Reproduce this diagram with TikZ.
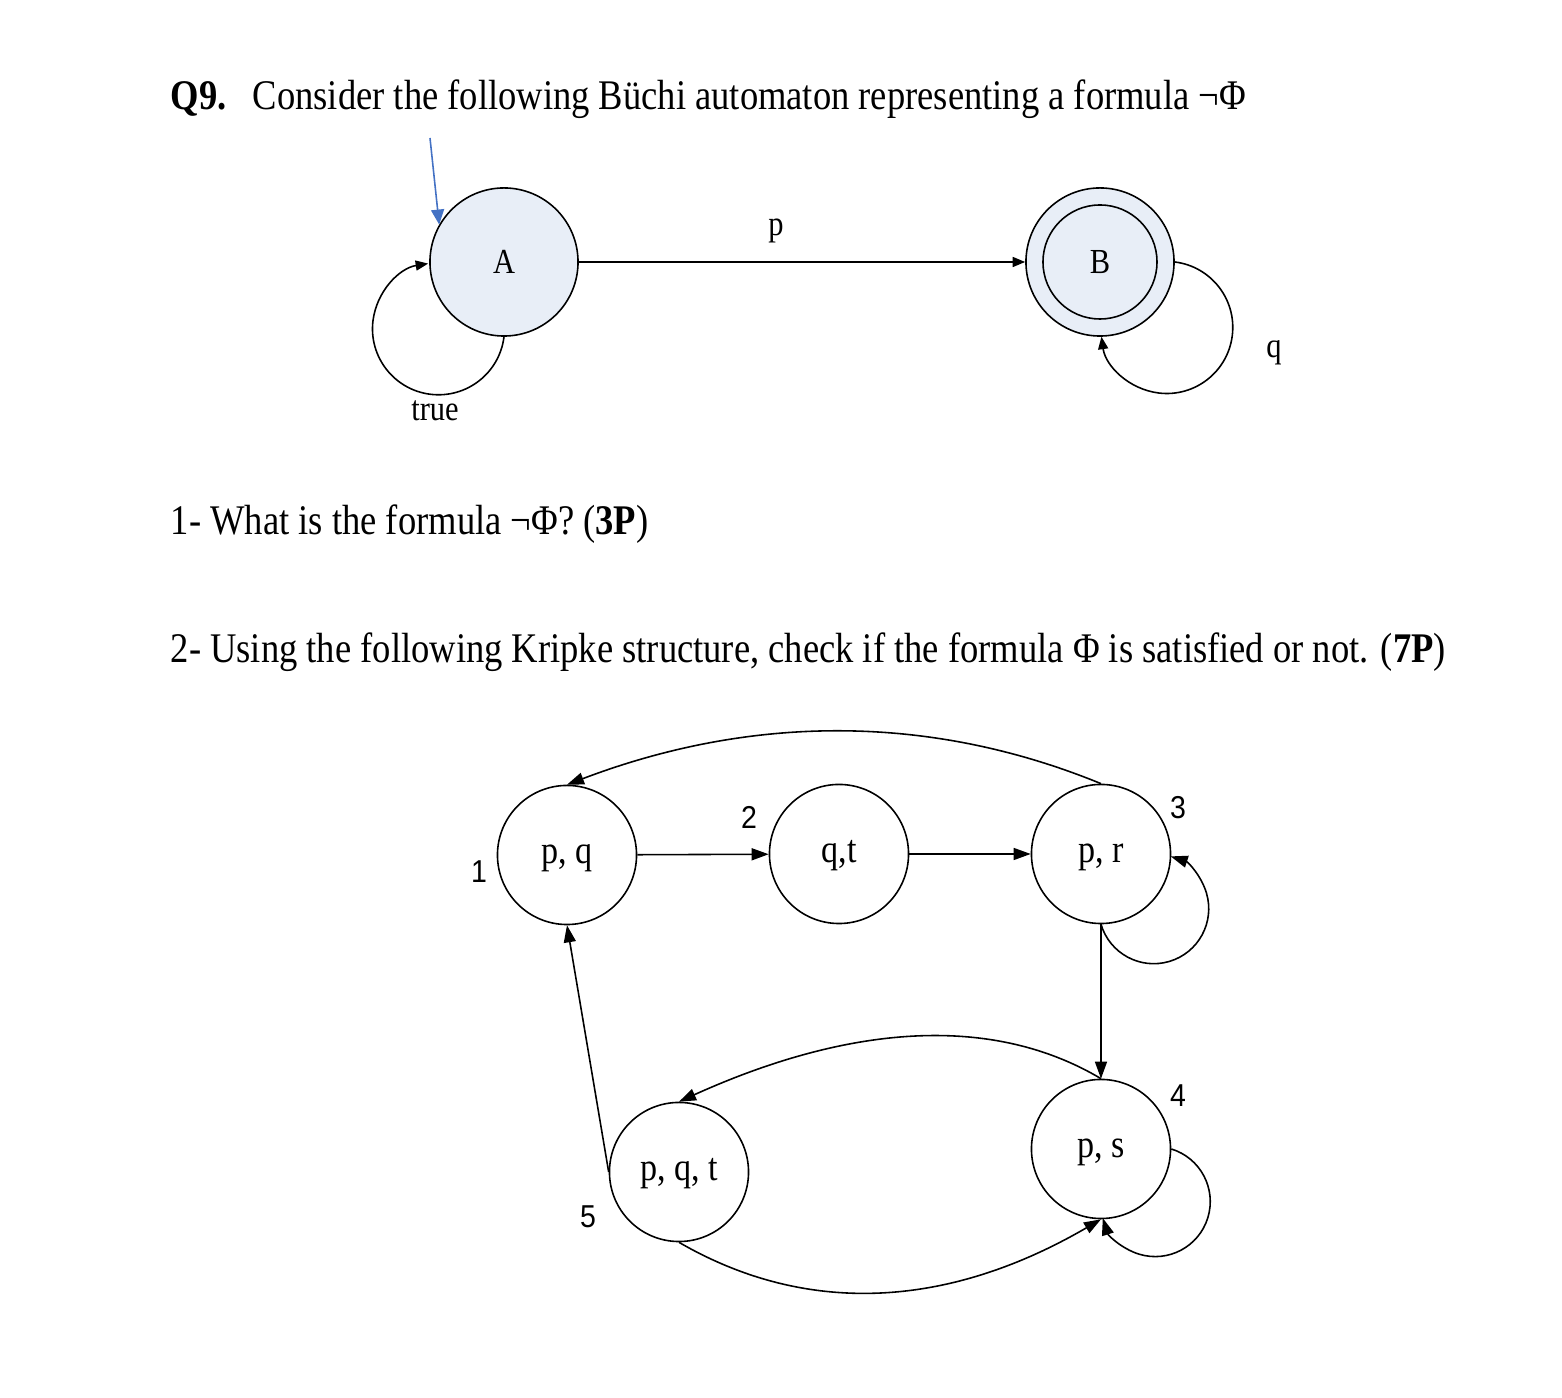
\documentclass[tikz,border=0pt]{standalone}
\usepackage{fontspec}
\setmainfont{Liberation Serif}[FakeStretch=0.866]
\newfontfamily\numfont{Liberation Sans}[FakeStretch=0.9]
\usetikzlibrary{arrows.meta}
\definecolor{statefill}{RGB}{232,238,247}
\definecolor{initblue}{RGB}{68,114,196}
\begin{document}
\begin{tikzpicture}[x=0.01cm,y=-0.01cm,line width=0.45pt,
  txt/.style={inner sep=0pt, anchor=base west, font=\fontsize{12}{14}\selectfont},
  bstate/.style={circle, draw, fill=statefill, inner sep=0pt, minimum size=1.48cm, font=\fontsize{10}{12}\selectfont},
  binner/.style={circle, draw, inner sep=0pt, minimum size=1.14cm, font=\fontsize{10}{12}\selectfont},
  kstate/.style={circle, draw, inner sep=0pt, minimum size=1.39cm, font=\fontsize{11.2}{13}\selectfont, text height=1.6ex, text depth=0.5ex},
  numlbl/.style={inner sep=0pt, font=\numfont\fontsize{9}{10}\selectfont},
  edgelbl/.style={inner sep=0pt, anchor=base, font=\fontsize{10}{12}\selectfont},
  sarrow/.style={-{Triangle[length=1.25mm,width=1.0mm]}},
  karrow/.style={-{Triangle[length=1.7mm,width=1.2mm]}}]
\useasboundingbox (0,0) rectangle (1562,1398);
% texts
\node[txt] (q9) at (170,110) {\textbf{Q9.}};
\node[txt] (intro) at (252,110) {Consider the following Büchi automaton representing a formula ¬Φ};
\node[txt] (ques1) at (170,535) {1- What is the formula ¬Φ? (\textbf{3P})};
\node[txt] (ques2) at (170,663) {2- Using the following Kripke structure, check if the formula Φ is satisfied or not. (\textbf{7P})};
% Buchi automaton
\node[bstate] (A) at (504,262) {A};
\node[bstate] (B) at (1100,262) {};
\node[binner] (Bin) at (1100,262) {B};
\coordinate (init) at (430,138);
\draw[initblue, -{Triangle[length=1.5mm,width=1.3mm]}] (init) -- (A.150);
\draw[sarrow] (A) -- (B);
\node[edgelbl] (plbl) at (776,236) {p};
\draw[sarrow] (A.south) arc[start angle=7, end angle=261, radius=66];
\node[edgelbl] (truelbl) at (435,421) {true};
\draw[sarrow] (B.east) arc[start angle=-83, end angle=172, radius=66];
\node[edgelbl] (qlbl) at (1274,358) {q};
% Kripke structure
\node[kstate] (k1) at (567,855) {p, q};
\node[kstate] (k2) at (839,854) {q,t};
\node[kstate] (k3) at (1101,854) {p, r};
\node[kstate] (k4) at (1101,1149) {p, s};
\node[kstate] (k5) at (679,1172) {p, q, t};
\node[numlbl] (n1) at (479,872) {1};
\node[numlbl] (n2) at (749,817) {2};
\node[numlbl] (n3) at (1178,808) {3};
\node[numlbl] (n4) at (1178,1096) {4};
\node[numlbl] (n5) at (588,1217) {5};
\draw[karrow] (k1) -- (k2);
\draw[karrow] (k2) -- (k3);
\draw[karrow] (k3) -- (k4);
\draw[karrow] (k5.west) -- (k1.south);
\draw[karrow] (k3.north) .. controls (931,714) and (753,714) .. (k1.north);
\draw[karrow] (k4.north) .. controls (994,1015) and (853,1023) .. (k5.north);
\draw[karrow] (k5.south) .. controls (806,1316) and (947,1309) .. (k4.south);
\draw[karrow] (k3.south) arc[start angle=163.5, end angle=-72, radius=55];
\draw[karrow] (k4.east) arc[start angle=-73, end angle=162.5, radius=55];
\end{tikzpicture}
\end{document}
